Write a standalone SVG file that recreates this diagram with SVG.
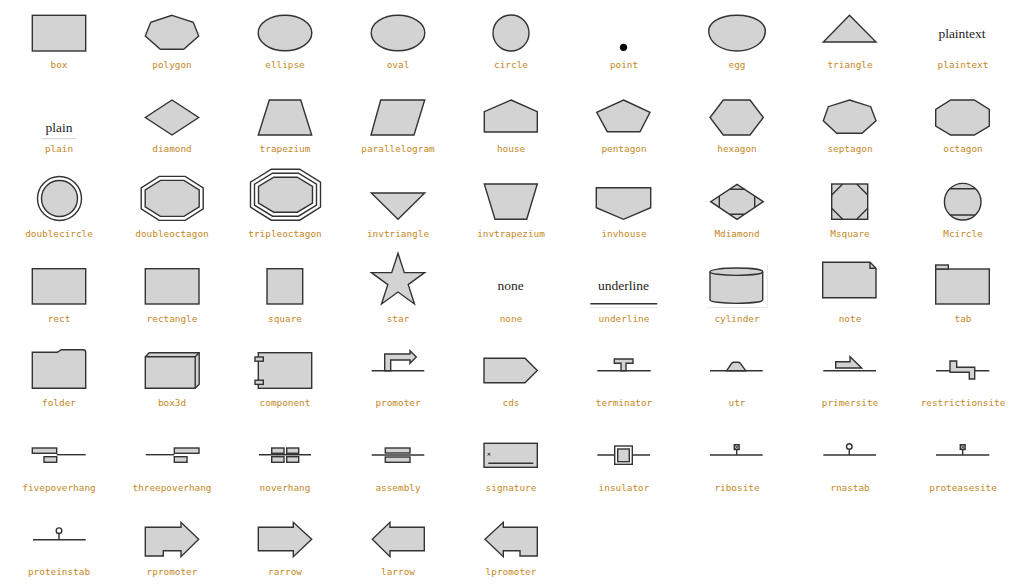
<svg xmlns="http://www.w3.org/2000/svg" width="1024" height="587" viewBox="0 0 1024 587">
<style>
.s{fill:#d3d3d3;stroke:#333333;stroke-width:1.4;stroke-linejoin:miter}
.w{fill:#ffffff;stroke:#333333;stroke-width:1.4}
.n{fill:none;stroke:#333333;stroke-width:1.4}
.l{font-family:"DejaVu Sans Mono","Liberation Mono",monospace;font-size:9.4px;fill:#c4881f;text-anchor:middle}
.t{font-family:"Liberation Serif","Times New Roman",serif;font-size:13.5px;fill:#1e1e1e;text-anchor:middle}
</style>
<rect width="1024" height="587" fill="#ffffff"/>
<g id="connectors"/>
<!-- Row 1 -->
<g id="box"><rect class="s" x="32.3" y="15.3" width="53.4" height="35.7"/><text class="l" x="59" y="68">box</text></g>
<g id="polygon"><polygon class="s" points="172,15.3 193.3,22.3 198.7,36 183.7,49.3 160.3,49.3 145.3,36 150.7,22.3"/><text class="l" x="172" y="68">polygon</text></g>
<g id="ellipse"><ellipse class="s" cx="285" cy="33" rx="26.8" ry="17.8"/><text class="l" x="285" y="68">ellipse</text></g>
<g id="oval"><ellipse class="s" cx="398" cy="33" rx="26.8" ry="17.8"/><text class="l" x="398" y="68">oval</text></g>
<g id="circle"><circle class="s" cx="511" cy="33" r="18"/><text class="l" x="511" y="68">circle</text></g>
<g id="point"><circle cx="623.5" cy="47.3" r="3.6" fill="#000"/><text class="l" x="624" y="68">point</text></g>
<g id="egg"><path class="s" d="M737,15.3 C755,15.3 765.3,23 765.3,31 C765.3,43 752,51 737,51 C722,51 708.7,43 708.7,31 C708.7,23 719,15.3 737,15.3 Z"/><text class="l" x="737" y="68">egg</text></g>
<g id="triangle"><polygon class="s" points="849.5,15.3 876,42 823.3,42"/><text class="l" x="850" y="68">triangle</text></g>
<g id="plaintext"><text class="t" x="962" y="37.5">plaintext</text><text class="l" x="963" y="68">plaintext</text></g>
<!-- Row 2 -->
<g id="plain"><text class="t" x="59" y="131.5">plain</text><line x1="42" y1="138.7" x2="76.7" y2="138.7" stroke="#d8d8d8" stroke-width="1.2"/><text class="l" x="59" y="152">plain</text></g>
<g id="diamond"><polygon class="s" points="172,100 198.7,117.5 172,135 145.3,117.5"/><text class="l" x="172" y="152">diamond</text></g>
<g id="trapezium"><polygon class="s" points="269.3,100 300.7,100 311.7,135 258.3,135"/><text class="l" x="285" y="152">trapezium</text></g>
<g id="parallelogram"><polygon class="s" points="380.7,100 424.7,100 414,135 371,135"/><text class="l" x="398" y="152">parallelogram</text></g>
<g id="house"><polygon class="s" points="511,100 537.3,111.7 537.3,132 484.3,132 484.3,111.7"/><text class="l" x="511" y="152">house</text></g>
<g id="pentagon"><polygon class="s" points="623.5,100 650,112.3 640,131.7 607.3,131.7 596.7,112.3"/><text class="l" x="624" y="152">pentagon</text></g>
<g id="hexagon"><polygon class="s" points="723.3,100 750,100 763.3,117.5 750,135 723.3,135 710,117.5"/><text class="l" x="737" y="152">hexagon</text></g>
<g id="septagon"><polygon class="s" points="849.5,100 870.7,106.7 876,120.7 862,133.3 836.7,133.3 823.3,120.7 828.3,106.7"/><text class="l" x="850" y="152">septagon</text></g>
<g id="octagon"><polygon class="s" points="950.7,100 974.3,100 989.3,109.3 989.3,126 974.3,135 950.7,135 935.7,126 935.7,109.3"/><text class="l" x="963" y="152">octagon</text></g>
<!-- Row 3 -->
<g id="doublecircle"><circle class="w" cx="59.5" cy="198.5" r="22"/><circle class="s" cx="59.5" cy="198.5" r="18"/><text class="l" x="59" y="237">doublecircle</text></g>
<g id="doubleoctagon"><polygon class="w" points="159.2,176.4 185.2,176.4 203.2,187.9 203.2,208.9 185.2,220.4 159.2,220.4 141.2,208.9 141.2,187.9"/><polygon class="s" points="160.4,180.4 184,180.4 199.2,190 199.2,206.8 184,216.4 160.4,216.4 145.2,206.8 145.2,190"/><text class="l" x="172" y="237">doubleoctagon</text></g>
<g id="tripleoctagon"><polygon class="w" points="271.3,169.2 299.7,169.2 320.5,182.2 320.5,207.2 299.7,220.2 271.3,220.2 250.5,207.2 250.5,182.2"/><polygon class="w" points="272.5,173.2 298.5,173.2 316.5,184.2 316.5,205.2 298.5,216.2 272.5,216.2 254.5,205.2 254.5,184.2"/><polygon class="s" points="273.7,177.2 297.3,177.2 312.5,186.4 312.5,203 297.3,212.2 273.7,212.2 258.5,203 258.5,186.4"/><text class="l" x="285" y="237">tripleoctagon</text></g>
<g id="invtriangle"><polygon class="s" points="371.3,193 424.7,193 398,219.3"/><text class="l" x="398" y="237">invtriangle</text></g>
<g id="invtrapezium"><polygon class="s" points="484.3,184 537.3,184 526.7,219.3 495,219.3"/><text class="l" x="511" y="237">invtrapezium</text></g>
<g id="invhouse"><polygon class="s" points="596.3,187.7 650.7,187.7 650.7,207.7 623.5,219.3 596.3,207.7"/><text class="l" x="624" y="237">invhouse</text></g>
<g id="Mdiamond"><polygon class="s" points="737,184.3 763.3,201.7 737,219.3 710.7,201.7"/><path class="n" d="M729.5,189.3 H744.5 M729.5,214.3 H744.5 M719.3,196 V207.4 M754.7,196 V207.4"/><text class="l" x="737" y="237">Mdiamond</text></g>
<g id="Msquare"><rect class="s" x="831.7" y="184" width="36" height="35.3"/><path class="n" d="M831.7,195 L842.7,184 M856.7,184 L867.7,195 M867.7,208.3 L856.7,219.3 M842.7,219.3 L831.7,208.3"/><text class="l" x="850" y="237">Msquare</text></g>
<g id="Mcircle"><circle class="s" cx="962.7" cy="201.7" r="18.3"/><path class="n" d="M949.8,188.7 H975.6 M950.1,215 H975.3"/><text class="l" x="963" y="237">Mcircle</text></g>
<!-- Row 4 -->
<g id="rect"><rect class="s" x="32.3" y="268.7" width="53.4" height="35.3"/><text class="l" x="59" y="321.5">rect</text></g>
<g id="rectangle"><rect class="s" x="145.3" y="268.7" width="53.7" height="35.3"/><text class="l" x="172" y="321.5">rectangle</text></g>
<g id="square"><rect class="s" x="267" y="268.7" width="35.7" height="35.3"/><text class="l" x="285" y="321.5">square</text></g>
<g id="star"><polygon class="s" points="398,253.3 404.3,272.6 424.6,272.6 408.2,284.6 414.5,304 398,292 381.5,304 387.8,284.6 371.4,272.6 391.7,272.6"/><text class="l" x="398" y="321.5">star</text></g>
<g id="none"><text class="t" x="510.7" y="290">none</text><text class="l" x="511" y="321.5">none</text></g>
<g id="underline"><text class="t" x="623.5" y="289.5">underline</text><line class="n" x1="590.3" y1="303.7" x2="657.3" y2="303.7"/><line x1="590" y1="307.5" x2="658" y2="307.5" stroke="#ececec" stroke-width="1"/><text class="l" x="624" y="321.5">underline</text></g>
<g id="cylinder"><path class="s" d="M710,271.7 V299.7 A26.35,3.7 0 0 0 762.7,299.7 V271.7 A26.35,3.7 0 0 0 710,271.7 Z"/><path class="n" d="M710,271.7 A26.35,3.7 0 0 0 762.7,271.7"/><path d="M767.3,265 V307.7 H707" fill="none" stroke="#e6e6e6" stroke-width="1"/><text class="l" x="737" y="321.5">cylinder</text></g>
<g id="note"><path class="s" d="M822.7,262.3 H870 L876,268.3 V297.7 H822.7 Z"/><path class="n" d="M870,262.3 V268.3 H876"/><text class="l" x="850" y="321.5">note</text></g>
<g id="tab"><rect class="s" x="935.7" y="269" width="53.6" height="35"/><rect class="s" x="935.7" y="265" width="12.6" height="4"/><text class="l" x="963" y="321.5">tab</text></g>
<!-- Row 5 -->
<g id="folder"><path class="s" d="M32.3,352.3 H57.3 L61.3,349.7 H83 Q85.7,349.7 85.7,352.3 V388.3 H32.3 Z"/><text class="l" x="59" y="405.7">folder</text></g>
<g id="box3d"><path class="s" d="M145.3,356.7 L149.3,352.7 H199.2 V384.3 L195.2,388.3 H145.3 Z"/><path class="n" d="M145.3,356.7 H195.2 V388.3 M195.2,356.7 L199.2,352.7"/><text class="l" x="172" y="405.7">box3d</text></g>
<g id="component"><rect class="s" x="258.3" y="352.7" width="53.4" height="35.6"/><rect class="s" x="255" y="357" width="8.3" height="4.2"/><rect class="s" x="255" y="380.2" width="8.3" height="4.2"/><text class="l" x="285" y="405.7">component</text></g>
<g id="promoter"><line class="n" x1="371.7" y1="370.7" x2="424.3" y2="370.7"/><path class="s" d="M384.7,370.7 V354 H410 V350.7 L416.3,357 L410,363.3 V360 H390.7 V370.7 Z"/><text class="l" x="398" y="405.7">promoter</text></g>
<g id="cds"><polygon class="s" points="484,358.3 525,358.3 537.3,370.5 525,382.7 484,382.7"/><text class="l" x="511" y="405.7">cds</text></g>
<g id="terminator"><line class="n" x1="597.3" y1="370.7" x2="650.7" y2="370.7"/><path class="s" d="M614.3,359 H633 V363.3 H626 V370.7 H621 V363.3 H614.3 Z"/><text class="l" x="624" y="405.7">terminator</text></g>
<g id="utr"><line class="n" x1="710" y1="370.7" x2="762.7" y2="370.7"/><path class="s" d="M726.7,370.7 L731.5,363.5 Q732.5,362.3 734,362.3 H738 Q739.5,362.3 740.5,363.5 L745.7,370.7 Z"/><text class="l" x="737" y="405.7">utr</text></g>
<g id="primersite"><line class="n" x1="823.3" y1="370.7" x2="876" y2="370.7"/><path class="s" d="M835.7,368 V361.7 H850 V356.7 L861.7,368 Z"/><text class="l" x="850" y="405.7">primersite</text></g>
<g id="restrictionsite"><line class="n" x1="936" y1="370.7" x2="989.3" y2="370.7"/><path class="s" d="M950,361 H956.7 V367.3 H974.7 V379 H969.3 V372.3 H950 Z"/><text class="l" x="963" y="405.7">restrictionsite</text></g>
<!-- Row 6 -->
<g id="fivepoverhang"><line class="n" x1="56.7" y1="454.7" x2="85.7" y2="454.7"/><rect class="s" x="32.3" y="448" width="24.4" height="5.3"/><rect class="s" x="44" y="456.7" width="12.7" height="5.6"/><text class="l" x="59" y="490.7">fivepoverhang</text></g>
<g id="threepoverhang"><line class="n" x1="145.7" y1="454.7" x2="174.3" y2="454.7"/><rect class="s" x="174.3" y="448" width="24.7" height="5.3"/><rect class="s" x="174.3" y="456.7" width="12.7" height="5.6"/><text class="l" x="172" y="490.7">threepoverhang</text></g>
<g id="noverhang"><line class="n" x1="259" y1="454.7" x2="311" y2="454.7"/><rect class="s" x="271.7" y="448" width="12.3" height="5.3"/><rect class="s" x="286.7" y="448" width="12" height="5.3"/><rect class="s" x="271.7" y="456.7" width="12.3" height="5.6"/><rect class="s" x="286.7" y="456.7" width="12" height="5.6"/><text class="l" x="285" y="490.7">noverhang</text></g>
<g id="assembly"><line class="n" x1="371.7" y1="455" x2="424.3" y2="455"/><rect class="s" x="385.3" y="448" width="24.7" height="5"/><rect class="s" x="385.3" y="457" width="24.7" height="5.3"/><text class="l" x="398" y="490.7">assembly</text></g>
<g id="signature"><rect class="s" x="484" y="443.3" width="53.3" height="24"/><line class="n" x1="488.3" y1="463.3" x2="533.3" y2="463.3"/><path d="M487.8,453.1 L490.2,455.5 M490.2,453.1 L487.8,455.5" stroke="#222" stroke-width="1"/><text class="l" x="511" y="490.7">signature</text></g>
<g id="insulator"><line class="n" x1="597.3" y1="455" x2="650" y2="455"/><rect class="w" x="614.7" y="446" width="17.6" height="18.3"/><rect class="s" x="617.7" y="449" width="11.6" height="12.7"/><text class="l" x="624" y="490.7">insulator</text></g>
<g id="ribosite"><line class="n" x1="710" y1="455" x2="762.7" y2="455"/><line class="n" x1="736.7" y1="449.5" x2="736.7" y2="455"/><rect class="s" x="734.3" y="444.7" width="4.8" height="4.8"/><path d="M734.3,444.7 L739.1,449.5 M739.1,444.7 L734.3,449.5" stroke="#333333" stroke-width="0.9"/><text class="l" x="737" y="490.7">ribosite</text></g>
<g id="rnastab"><line class="n" x1="823.3" y1="455" x2="876" y2="455"/><line class="n" x1="849.3" y1="449.3" x2="849.3" y2="455"/><circle class="w" cx="849.3" cy="446.5" r="2.8"/><text class="l" x="850" y="490.7">rnastab</text></g>
<g id="proteasesite"><line class="n" x1="936" y1="455" x2="989.3" y2="455"/><line class="n" x1="962.7" y1="449.5" x2="962.7" y2="455"/><rect class="s" x="960.3" y="444.7" width="4.8" height="4.8"/><path d="M960.3,444.7 L965.1,449.5 M965.1,444.7 L960.3,449.5" stroke="#333333" stroke-width="0.9"/><text class="l" x="963" y="490.7">proteasesite</text></g>
<!-- Row 7 -->
<g id="proteinstab"><line class="n" x1="33" y1="539.7" x2="85.7" y2="539.7"/><line class="n" x1="59" y1="533.5" x2="59" y2="539.7"/><circle class="w" cx="59" cy="530.7" r="2.8"/><text class="l" x="59" y="574.7">proteinstab</text></g>
<g id="rpromoter"><path class="s" d="M145.3,527.3 H181 V522.3 L198.7,539.3 L181,556.7 V550.7 H163.3 V556 H145.3 Z"/><text class="l" x="172" y="574.7">rpromoter</text></g>
<g id="rarrow"><path class="s" d="M258.3,527.3 H293.3 V522.3 L311.7,539.3 L293.3,556.7 V550.7 H258.3 Z"/><text class="l" x="285" y="574.7">rarrow</text></g>
<g id="larrow"><path class="s" d="M424.3,527.3 H390 V522.3 L372.3,539.3 L390,556.7 V550.7 H424.3 Z"/><text class="l" x="398" y="574.7">larrow</text></g>
<g id="lpromoter"><path class="s" d="M537.3,527.3 H503.3 V522.3 L485,539.3 L503.3,556.7 V550.7 H520 V556 H537.3 Z"/><text class="l" x="511" y="574.7">lpromoter</text></g>
</svg>
